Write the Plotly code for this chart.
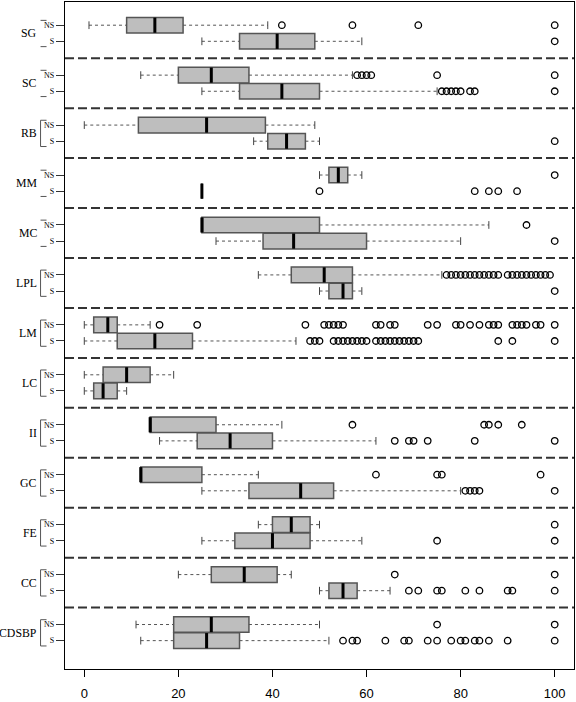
import plotly.graph_objects as go

# groups from top to bottom
groups = ["SG", "SC", "RB", "MM", "MC", "LPL", "LM", "LC", "II", "GC", "FE", "CC", "CDSBP"]

# NS rows: whisker low, q1, median, q3, whisker high
ns_lo = [1, 12, 0, 50, 25, 37, 0, 0, 14, 12, 37, 20, 11]
ns_q1 = [9, 20, 11.5, 52, 25, 44, 2, 4, 14, 12, 40, 27, 19]
ns_med = [15, 27, 26, 54, 25, 51, 5, 9, 14, 12, 44, 34, 27]
ns_q3 = [21, 35, 38.5, 56, 50, 57, 7, 14, 28, 25, 48, 41, 35]
ns_hi = [39, 57, 49, 59, 86, 76, 14, 19, 42, 37, 50, 44, 50]
ns_out = [
    [42, 57, 71, 100],
    [58, 59, 60, 61, 75, 100],
    [],
    [100],
    [94],
    [77, 78, 79, 80, 81, 82, 83, 84, 85, 86, 87, 88, 90, 91, 92, 93, 94, 95, 96, 97, 98, 99],
    [16, 24, 47, 51, 52, 53, 54, 55, 62, 63, 65, 66, 73, 75, 79, 80, 82, 84, 86, 87, 88,
     91, 92, 93, 94, 96, 97, 100],
    [],
    [57, 85, 86, 88, 93],
    [62, 75, 76, 97],
    [100],
    [66, 100],
    [75, 100],
]

# S rows
s_lo = [25, 25, 36, 25, 28, 50, 0, 0, 16, 25, 25, 50, 12]
s_q1 = [33, 33, 39, 25, 38, 52, 7, 2, 24, 35, 32, 52, 19]
s_med = [41, 42, 43, 25, 44.5, 55, 15, 4, 31, 46, 40, 55, 26]
s_q3 = [49, 50, 47, 25, 60, 57, 23, 7, 40, 53, 48, 58, 33]
s_hi = [59, 75, 50, 25, 80, 59, 45, 9, 62, 80, 59, 65, 52]
s_out = [
    [100],
    [76, 77, 78, 79, 80, 82, 83, 100],
    [100],
    [50, 83, 86, 88, 92],
    [100],
    [100],
    [48, 49, 50, 53, 54, 55, 56, 57, 58, 59, 60, 62, 63, 64, 65, 66, 67, 68, 69, 70, 71,
     88, 91, 100],
    [],
    [66, 69, 70, 73, 83, 100],
    [81, 82, 83, 84, 100],
    [75, 100],
    [69, 71, 75, 76, 81, 84, 90, 91, 100],
    [55, 57, 58, 64, 68, 69, 73, 75, 78, 80, 81, 83, 84, 86, 90, 100],
]

PERIOD = 3.1
n = len(groups)
pos_ns = [PERIOD * (n - 1 - i) + 1 for i in range(n)]
pos_s = [PERIOD * (n - 1 - i) for i in range(n)]

ys = pos_ns + pos_s
lo = ns_lo + s_lo
q1 = ns_q1 + s_q1
med = ns_med + s_med
q3 = ns_q3 + s_q3
hi = ns_hi + s_hi
outs = ns_out + s_out

fig = go.Figure()

# whiskers (dashed) and caps
wx, wy, cx, cy = [], [], [], []
for y, a, b, c, d in zip(ys, lo, q1, q3, hi):
    if b > a:
        wx += [a, b, None]
        wy += [y, y, None]
        cx += [a, a, None]
        cy += [y - 0.24, y + 0.24, None]
    if d > c:
        wx += [c, d, None]
        wy += [y, y, None]
        cx += [d, d, None]
        cy += [y - 0.24, y + 0.24, None]

fig.add_trace(go.Scatter(x=wx, y=wy, mode="lines", hoverinfo="skip",
                         line=dict(color="#555555", width=1, dash="3px,3px")))
fig.add_trace(go.Scatter(x=cx, y=cy, mode="lines", hoverinfo="skip",
                         line=dict(color="#444444", width=1)))

fig.add_trace(go.Box(
    y=ys, q1=q1, median=med, q3=q3, lowerfence=q1, upperfence=q3,
    orientation="h", width=0.97, whiskerwidth=0,
    fillcolor="#BEBEBE", line=dict(color="#555555", width=1.5),
    hoverinfo="skip",
))

# thick medians
mx, my = [], []
for y, m in zip(ys, med):
    mx += [m, m, None]
    my += [y - 0.47, y + 0.47, None]
fig.add_trace(go.Scatter(x=mx, y=my, mode="lines", hoverinfo="skip",
                         line=dict(color="black", width=3)))

# outliers
ox, oy = [], []
for y, vals in zip(ys, outs):
    ox += vals
    oy += [y] * len(vals)
fig.add_trace(go.Scatter(x=ox, y=oy, mode="markers", hoverinfo="skip",
                         marker=dict(symbol="circle-open", size=6.5, color="black",
                                     line=dict(width=1.3, color="black"))))

shapes = []
# dashed separators between groups
for i in range(n - 1):
    ysep = (pos_s[i] + pos_ns[i + 1]) / 2
    shapes.append(dict(type="line", xref="paper", yref="y", x0=0, x1=1, y0=ysep, y1=ysep,
                       line=dict(color="#333333", width=2, dash="9px,4px")))

# brackets and group labels
annotations = []
no_vertical = {"SG", "SC", "MM", "MC"}
bx0 = (40.5 - 65) / 510
bx1 = (46.5 - 65) / 510
for i, g in enumerate(groups):
    top = pos_ns[i] + 0.3
    bot = pos_s[i] - 0.33
    shapes.append(dict(type="line", xref="paper", yref="y", x0=bx0, x1=bx1, y0=top, y1=top,
                       line=dict(color="#555555", width=1)))
    shapes.append(dict(type="line", xref="paper", yref="y", x0=bx0, x1=bx1, y0=bot, y1=bot,
                       line=dict(color="#555555", width=1)))
    if g not in no_vertical:
        shapes.append(dict(type="line", xref="paper", yref="y", x0=bx0, x1=bx0, y0=bot, y1=top,
                           line=dict(color="#555555", width=1)))
    annotations.append(dict(text=g, xref="paper", yref="y", x=(38.5 - 65) / 510,
                            y=(pos_ns[i] + pos_s[i]) / 2, xanchor="right", yanchor="middle",
                            showarrow=False,
                            font=dict(family="Liberation Serif", size=11.8, color="black")))

fig.update_layout(
    width=576, height=702,
    margin=dict(l=65, r=1, t=1, b=26),
    paper_bgcolor="white", plot_bgcolor="white",
    showlegend=False,
    shapes=shapes,
    annotations=annotations,
    xaxis=dict(range=[-4.1, 104.1], tickvals=[0, 20, 40, 60, 80, 100],
               ticks="outside", ticklen=7, tickcolor="black", showgrid=False, zeroline=False,
               showline=True, mirror=True, linecolor="black", linewidth=1.3,
               ticklabelstandoff=5,
               tickfont=dict(family="Liberation Sans", size=13, color="black")),
    yaxis=dict(range=[-1.76, 39.64], tickvals=ys,
               ticktext=["NS"] * n + ["S"] * n,
               ticks="outside", ticklen=8, tickcolor="#333333", showgrid=False, zeroline=False,
               showline=True, mirror=True, linecolor="black", linewidth=1.3,
               tickfont=dict(family="Liberation Serif", size=8, color="black")),
)

# drop the page's default body margin so the figure sits at the window corner
fig.write_html("out.html", config={"displayModeBar": False},
               post_script="document.body.style.margin='0';")
